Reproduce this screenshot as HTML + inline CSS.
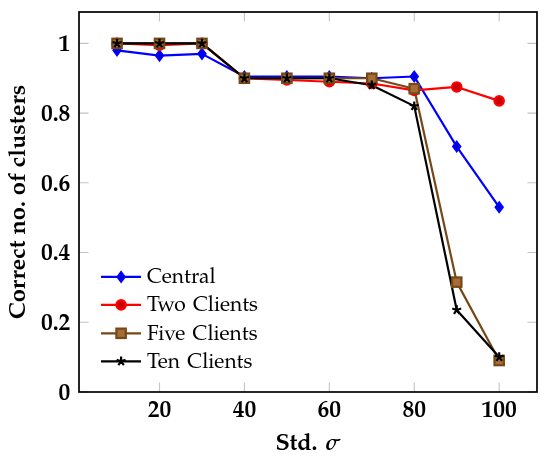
<!DOCTYPE html>
<html><head><meta charset="utf-8"><style>
html,body{margin:0;padding:0;background:#fff;}
body{width:550px;height:460px;overflow:hidden;}
svg{display:block;}
text{font-family:"TeX Gyre Pagella","Liberation Serif",serif;font-size:23.5px;fill:#000;}
.b{font-weight:bold;}
.r{font-weight:normal;font-size:21px;word-spacing:2px;}
.i{font-style:italic;font-weight:bold;}
</style></head><body>
<svg width="550" height="460" viewBox="0 0 550 460">
<rect width="550" height="460" fill="#fff"/>
<path d="M159.50,392V382.5M159.50,12V21.5M244.42,392V382.5M244.42,12V21.5M329.34,392V382.5M329.34,12V21.5M414.26,392V382.5M414.26,12V21.5M499.18,392V382.5M499.18,12V21.5M79,391.90H88.5M537,391.90H527.5M79,322.20H88.5M537,322.20H527.5M79,252.50H88.5M537,252.50H527.5M79,182.80H88.5M537,182.80H527.5M79,113.10H88.5M537,113.10H527.5M79,43.40H88.5M537,43.40H527.5" stroke="#c4c4c4" stroke-width="1.1" fill="none"/>
<polyline points="117.04,50.37 159.50,55.60 201.96,53.86 244.42,76.51 286.88,76.51 329.34,76.51 371.80,78.25 414.26,76.51 456.72,146.56 499.18,207.19" fill="none" stroke="#0000ff" stroke-width="2.2" stroke-linejoin="round"/>
<polyline points="117.04,43.40 159.50,45.14 201.96,43.40 244.42,78.25 286.88,79.99 329.34,81.73 371.80,83.48 414.26,90.45 456.72,86.96 499.18,100.90" fill="none" stroke="#ff0000" stroke-width="2.2" stroke-linejoin="round"/>
<polyline points="117.04,43.40 159.50,43.40 201.96,43.40 244.42,78.25 286.88,78.25 329.34,78.25 371.80,78.25 414.26,88.70 456.72,282.12 499.18,360.53" fill="none" stroke="#764818" stroke-width="2.2" stroke-linejoin="round"/>
<polyline points="117.04,43.40 159.50,43.40 201.96,43.40 244.42,78.25 286.88,78.25 329.34,78.25 371.80,85.22 414.26,106.13 456.72,310.00 499.18,357.05" fill="none" stroke="#000000" stroke-width="2.2" stroke-linejoin="round"/>
<path d="M117.04,45.67 L120.56,50.37 L117.04,55.07 L113.51,50.37Z" fill="#0000cc" stroke="#0000ff" stroke-width="2.2"/>
<path d="M159.50,50.90 L163.03,55.60 L159.50,60.30 L155.97,55.60Z" fill="#0000cc" stroke="#0000ff" stroke-width="2.2"/>
<path d="M201.96,49.16 L205.49,53.86 L201.96,58.56 L198.44,53.86Z" fill="#0000cc" stroke="#0000ff" stroke-width="2.2"/>
<path d="M244.42,71.81 L247.95,76.51 L244.42,81.21 L240.90,76.51Z" fill="#0000cc" stroke="#0000ff" stroke-width="2.2"/>
<path d="M286.88,71.81 L290.40,76.51 L286.88,81.21 L283.36,76.51Z" fill="#0000cc" stroke="#0000ff" stroke-width="2.2"/>
<path d="M329.34,71.81 L332.87,76.51 L329.34,81.21 L325.82,76.51Z" fill="#0000cc" stroke="#0000ff" stroke-width="2.2"/>
<path d="M371.80,73.55 L375.32,78.25 L371.80,82.95 L368.28,78.25Z" fill="#0000cc" stroke="#0000ff" stroke-width="2.2"/>
<path d="M414.26,71.81 L417.78,76.51 L414.26,81.21 L410.74,76.51Z" fill="#0000cc" stroke="#0000ff" stroke-width="2.2"/>
<path d="M456.72,141.86 L460.25,146.56 L456.72,151.26 L453.20,146.56Z" fill="#0000cc" stroke="#0000ff" stroke-width="2.2"/>
<path d="M499.18,202.50 L502.71,207.19 L499.18,211.89 L495.66,207.19Z" fill="#0000cc" stroke="#0000ff" stroke-width="2.2"/>
<circle cx="117.04" cy="43.40" r="4.7" fill="#cc0000" stroke="#ff0000" stroke-width="2.2"/>
<circle cx="159.50" cy="45.14" r="4.7" fill="#cc0000" stroke="#ff0000" stroke-width="2.2"/>
<circle cx="201.96" cy="43.40" r="4.7" fill="#cc0000" stroke="#ff0000" stroke-width="2.2"/>
<circle cx="244.42" cy="78.25" r="4.7" fill="#cc0000" stroke="#ff0000" stroke-width="2.2"/>
<circle cx="286.88" cy="79.99" r="4.7" fill="#cc0000" stroke="#ff0000" stroke-width="2.2"/>
<circle cx="329.34" cy="81.73" r="4.7" fill="#cc0000" stroke="#ff0000" stroke-width="2.2"/>
<circle cx="371.80" cy="83.48" r="4.7" fill="#cc0000" stroke="#ff0000" stroke-width="2.2"/>
<circle cx="414.26" cy="90.45" r="4.7" fill="#cc0000" stroke="#ff0000" stroke-width="2.2"/>
<circle cx="456.72" cy="86.96" r="4.7" fill="#cc0000" stroke="#ff0000" stroke-width="2.2"/>
<circle cx="499.18" cy="100.90" r="4.7" fill="#cc0000" stroke="#ff0000" stroke-width="2.2"/>
<rect x="112.34" y="38.70" width="9.40" height="9.40" fill="#a66e36" stroke="#764818" stroke-width="2.2"/>
<rect x="154.80" y="38.70" width="9.40" height="9.40" fill="#a66e36" stroke="#764818" stroke-width="2.2"/>
<rect x="197.26" y="38.70" width="9.40" height="9.40" fill="#a66e36" stroke="#764818" stroke-width="2.2"/>
<rect x="239.72" y="73.55" width="9.40" height="9.40" fill="#a66e36" stroke="#764818" stroke-width="2.2"/>
<rect x="282.18" y="73.55" width="9.40" height="9.40" fill="#a66e36" stroke="#764818" stroke-width="2.2"/>
<rect x="324.64" y="73.55" width="9.40" height="9.40" fill="#a66e36" stroke="#764818" stroke-width="2.2"/>
<rect x="367.10" y="73.55" width="9.40" height="9.40" fill="#a66e36" stroke="#764818" stroke-width="2.2"/>
<rect x="409.56" y="84.00" width="9.40" height="9.40" fill="#a66e36" stroke="#764818" stroke-width="2.2"/>
<rect x="452.02" y="277.42" width="9.40" height="9.40" fill="#a66e36" stroke="#764818" stroke-width="2.2"/>
<rect x="494.48" y="355.83" width="9.40" height="9.40" fill="#a66e36" stroke="#764818" stroke-width="2.2"/>
<path d="M117.04,43.40L117.04,38.70M117.04,43.40L121.51,41.95M117.04,43.40L119.80,47.20M117.04,43.40L114.28,47.20M117.04,43.40L112.57,41.95" stroke="#000" stroke-width="2.2" fill="none"/>
<path d="M159.50,43.40L159.50,38.70M159.50,43.40L163.97,41.95M159.50,43.40L162.26,47.20M159.50,43.40L156.74,47.20M159.50,43.40L155.03,41.95" stroke="#000" stroke-width="2.2" fill="none"/>
<path d="M201.96,43.40L201.96,38.70M201.96,43.40L206.43,41.95M201.96,43.40L204.72,47.20M201.96,43.40L199.20,47.20M201.96,43.40L197.49,41.95" stroke="#000" stroke-width="2.2" fill="none"/>
<path d="M244.42,78.25L244.42,73.55M244.42,78.25L248.89,76.80M244.42,78.25L247.18,82.05M244.42,78.25L241.66,82.05M244.42,78.25L239.95,76.80" stroke="#000" stroke-width="2.2" fill="none"/>
<path d="M286.88,78.25L286.88,73.55M286.88,78.25L291.35,76.80M286.88,78.25L289.64,82.05M286.88,78.25L284.12,82.05M286.88,78.25L282.41,76.80" stroke="#000" stroke-width="2.2" fill="none"/>
<path d="M329.34,78.25L329.34,73.55M329.34,78.25L333.81,76.80M329.34,78.25L332.10,82.05M329.34,78.25L326.58,82.05M329.34,78.25L324.87,76.80" stroke="#000" stroke-width="2.2" fill="none"/>
<path d="M371.80,85.22L371.80,80.52M371.80,85.22L376.27,83.77M371.80,85.22L374.56,89.02M371.80,85.22L369.04,89.02M371.80,85.22L367.33,83.77" stroke="#000" stroke-width="2.2" fill="none"/>
<path d="M414.26,106.13L414.26,101.43M414.26,106.13L418.73,104.68M414.26,106.13L417.02,109.93M414.26,106.13L411.50,109.93M414.26,106.13L409.79,104.68" stroke="#000" stroke-width="2.2" fill="none"/>
<path d="M456.72,310.00L456.72,305.30M456.72,310.00L461.19,308.55M456.72,310.00L459.48,313.80M456.72,310.00L453.96,313.80M456.72,310.00L452.25,308.55" stroke="#000" stroke-width="2.2" fill="none"/>
<path d="M499.18,357.05L499.18,352.35M499.18,357.05L503.65,355.60M499.18,357.05L501.94,360.85M499.18,357.05L496.42,360.85M499.18,357.05L494.71,355.60" stroke="#000" stroke-width="2.2" fill="none"/>
<rect x="79" y="12" width="458" height="380" fill="none" stroke="#000" stroke-width="1.7"/>
<g class="b"><text x="159.50" y="416.5" text-anchor="middle">20</text><text x="244.42" y="416.5" text-anchor="middle">40</text><text x="329.34" y="416.5" text-anchor="middle">60</text><text x="414.26" y="416.5" text-anchor="middle">80</text><text x="499.18" y="416.5" text-anchor="middle">100</text><text x="70.3" y="399.70" text-anchor="end">0</text><text x="70.3" y="330.00" text-anchor="end">0.2</text><text x="70.3" y="260.30" text-anchor="end">0.4</text><text x="70.3" y="190.60" text-anchor="end">0.6</text><text x="70.3" y="120.90" text-anchor="end">0.8</text><text x="70.3" y="51.20" text-anchor="end">1</text></g>
<text class="b" x="275.4" y="450">Std.</text><text class="i" x="325.1" y="450">σ</text>
<text class="b" transform="translate(25,202) rotate(-90)" text-anchor="middle">Correct no. of clusters</text>
<path d="M101,276.9H141" stroke="#0000ff" stroke-width="2.2"/><path d="M121.10,272.20 L124.62,276.90 L121.10,281.60 L117.57,276.90Z" fill="#0000cc" stroke="#0000ff" stroke-width="2.2"/><text class="r" x="146.9" y="283.10">Central</text><path d="M101,304.9H141" stroke="#ff0000" stroke-width="2.2"/><circle cx="121.10" cy="304.90" r="4.7" fill="#cc0000" stroke="#ff0000" stroke-width="2.2"/><text class="r" x="146.9" y="311.10">Two Clients</text><path d="M101,333.3H141" stroke="#764818" stroke-width="2.2"/><rect x="116.40" y="328.60" width="9.40" height="9.40" fill="#a66e36" stroke="#764818" stroke-width="2.2"/><text class="r" x="146.9" y="339.50">Five Clients</text><path d="M101,361.3H141" stroke="#000000" stroke-width="2.2"/><path d="M121.10,361.30L121.10,356.60M121.10,361.30L125.57,359.85M121.10,361.30L123.86,365.10M121.10,361.30L118.34,365.10M121.10,361.30L116.63,359.85" stroke="#000" stroke-width="2.2" fill="none"/><text class="r" x="146.9" y="367.50">Ten Clients</text>
</svg>
</body></html>
